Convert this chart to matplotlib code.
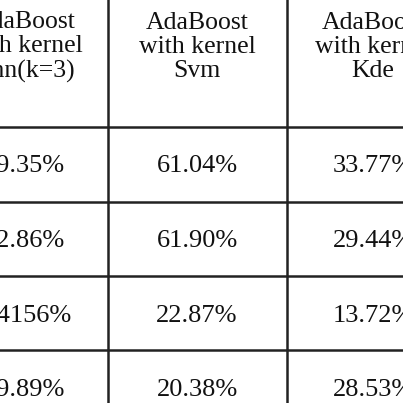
import matplotlib
matplotlib.use("Agg")
import matplotlib.pyplot as plt

headers = ["AdaBoost\nwith kernel\nKnn(k=3)", "AdaBoost\nwith kernel\nSvm", "AdaBoost\nwith kernel\nKde"]
col1 = ["49.35%", "42.86%", "0.4156%", "39.89%"]
col2 = ["61.04%", "61.90%", "22.87%", "20.38%"]
col3 = ["33.77%", "29.44%", "13.72%", "28.53%"]
cols = [col1, col2, col3]

fig = plt.figure(figsize=(4.03, 4.03), dpi=100)
ax = fig.add_axes([0, 0, 1, 1])
ax.set_xlim(0, 403)
ax.set_ylim(403, 0)
ax.axis("off")

font = dict(family=["Liberation Serif", "DejaVu Serif"], color="#111111")
xc = [24, 197, 373]
vlines = [108, 287]
hlines = [127, 202, 276, 350]
for x in vlines:
    ax.plot([x, x], [0, 403], color="#222222", lw=1.8)
for y in hlines:
    ax.plot([0, 403], [y, y], color="#222222", lw=1.8)

for i, h in enumerate(headers):
    ax.text(xc[i], 47, h, ha="center", va="center", fontsize=18.5, linespacing=1.12, **font)
rows_y = [166, 241, 316, 390]
for i, c in enumerate(cols):
    for j, v in enumerate(c):
        ax.text(xc[i], rows_y[j], v, ha="center", va="center", fontsize=19, **font)

fig.savefig("out.png", dpi=100)
